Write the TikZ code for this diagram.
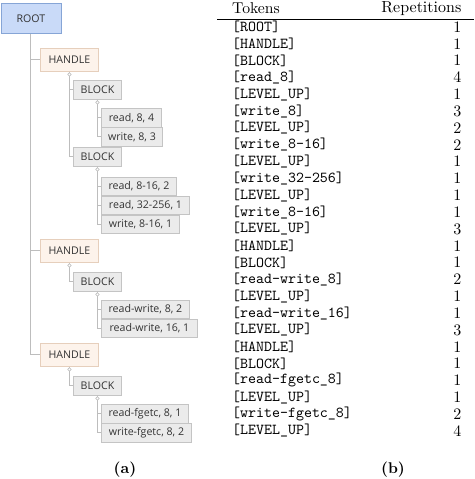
\documentclass[tikz,border=0pt]{standalone}
\usepackage{fontspec}
\setmainfont{lmroman10-regular}[Extension=.otf, BoldFont=lmroman10-bold]
\setmonofont{lmmono10-regular}[Extension=.otf]
\newfontfamily\treefont{Open Sans}
\definecolor{rootfill}{HTML}{C9DAF8}
\definecolor{rootdraw}{HTML}{86A5D6}
\definecolor{handfill}{HTML}{FDF3EB}
\definecolor{handdraw}{HTML}{E6CFBC}
\definecolor{grayfill}{HTML}{EBEBEB}
\definecolor{graydraw}{HTML}{C4C4C4}
\definecolor{linecol}{HTML}{BDBDBD}
\tikzset{
  box/.style={draw, line width=0.9pt, anchor=north west, inner sep=0pt, font=\treefont\fontsize{10.6}{12}\selectfont, text=black!80},
  rootbox/.style={box, fill=rootfill, draw=rootdraw},
  handbox/.style={box, fill=handfill, draw=handdraw},
  graybox/.style={box, fill=grayfill, draw=graydraw},
  conn/.style={draw=linecol, line width=1pt},
  knob/.style={circle, draw=linecol, fill=white, line width=0.6pt, inner sep=0pt, minimum size=3.5pt},
  tok/.style={anchor=west, inner sep=0pt, font=\ttfamily\fontsize{15.2}{17}\selectfont},
  rep/.style={anchor=east, inner sep=0pt, font=\fontsize{16}{17}\selectfont},
  capt/.style={inner sep=0pt, font=\bfseries\fontsize{15.5}{17}\selectfont}
}
\begin{document}
\begin{tikzpicture}[x=1pt,y=-1pt]
\useasboundingbox (0,0) rectangle (474,479);
% tree nodes
\node[rootbox, minimum width=60pt, minimum height=30pt] (root) at (0.5,3) {ROOT};
\node[handbox, minimum width=58pt, minimum height=23pt] (h1) at (40,48) {HANDLE};
\node[graybox, minimum width=48pt, minimum height=19pt] (b1) at (73,80) {BLOCK};
\node[graybox, minimum width=60pt, minimum height=19pt] (l1) at (101,108) {read, 8, 4};
\node[graybox, minimum width=61pt, minimum height=19pt] (l2) at (101,127) {write, 8, 3};
\node[graybox, minimum width=48pt, minimum height=19pt] (b2) at (73,147) {BLOCK};
\node[graybox, minimum width=75pt, minimum height=18.5pt] (l3) at (101,176.5) {read, 8-16, 2};
\node[graybox, minimum width=88pt, minimum height=18.5pt] (l4) at (101,195.5) {read, 32-256, 1};
\node[graybox, minimum width=78pt, minimum height=18.5pt] (l5) at (101,214.5) {write, 8-16, 1};
\node[handbox, minimum width=58pt, minimum height=23pt] (h2) at (40,239) {HANDLE};
\node[graybox, minimum width=48pt, minimum height=19pt] (b3) at (73,272) {BLOCK};
\node[graybox, minimum width=88pt, minimum height=18.5pt] (l6) at (101,299.5) {read-write, 8, 2};
\node[graybox, minimum width=96pt, minimum height=18.5pt] (l7) at (101,318.5) {read-write, 16, 1};
\node[handbox, minimum width=58pt, minimum height=23pt] (h3) at (40,343) {HANDLE};
\node[graybox, minimum width=48pt, minimum height=19pt] (b4) at (73,376) {BLOCK};
\node[graybox, minimum width=87pt, minimum height=19pt] (l8) at (101,403.5) {read-fgetc, 8, 1};
\node[graybox, minimum width=90pt, minimum height=19pt] (l9) at (101,423) {write-fgetc, 8, 2};
% connectors
\draw[conn] (root.south) |- (h3.west);
\draw[conn] (root.south) |- (h1.west);
\draw[conn] (root.south) |- (h2.west);
\draw[conn] (h1.south) |- (b2.west);
\draw[conn] (h1.south) |- (b1.west);
\draw[conn] (b1.south) |- (l2.west);
\draw[conn] (b1.south) |- (l1.west);
\draw[conn] (b2.south) |- (l5.west);
\draw[conn] (b2.south) |- (l4.west);
\draw[conn] (b2.south) |- (l3.west);
\draw[conn] (h2.south) |- (b3.west);
\draw[conn] (b3.south) |- (l7.west);
\draw[conn] (b3.south) |- (l6.west);
\draw[conn] (h3.south) |- (b4.west);
\draw[conn] (b4.south) |- (l9.west);
\draw[conn] (b4.south) |- (l8.west);
\foreach \n in {h1,b1,b2,h2,b3,h3,b4}{
  \node[knob] at ([yshift=-2.5pt]\n.south) {};
}
% table
\node[anchor=west, inner sep=0pt, font=\fontsize{15.7}{17}\selectfont] (th1) at (232,8.5) {Tokens};
\node[rep] (th2) at (461.5,8.5) {Repetitions};
\coordinate (rl) at (217,19.5);
\coordinate (rr) at (474,19.5);
\draw[line width=1.1pt] (rl) -- (rr);
\foreach \t/\r [count=\i from 0] in {
 {[ROOT]}/1, {[HANDLE]}/1, {[BLOCK]}/1, {[read\_8]}/4, {[LEVEL\_UP]}/1, {[write\_8]}/3,
 {[LEVEL\_UP]}/2, {[write\_8-16]}/2, {[LEVEL\_UP]}/1, {[write\_32-256]}/1, {[LEVEL\_UP]}/1,
 {[write\_8-16]}/1, {[LEVEL\_UP]}/3, {[HANDLE]}/1, {[BLOCK]}/1, {[read-write\_8]}/2,
 {[LEVEL\_UP]}/1, {[read-write\_16]}/1, {[LEVEL\_UP]}/3, {[HANDLE]}/1, {[BLOCK]}/1,
 {[read-fgetc\_8]}/1, {[LEVEL\_UP]}/1, {[write-fgetc\_8]}/2, {[LEVEL\_UP]}/4}{
  \node[tok] (t\i) at (232, 27+\i*16.83) {\t};
  \node[rep] (r\i) at (461.5, 27+\i*16.83) {\r};
}
\node[capt] (ca) at (125,470) {(a)};
\node[capt] (cb) at (393,470) {(b)};
\end{tikzpicture}
\end{document}
